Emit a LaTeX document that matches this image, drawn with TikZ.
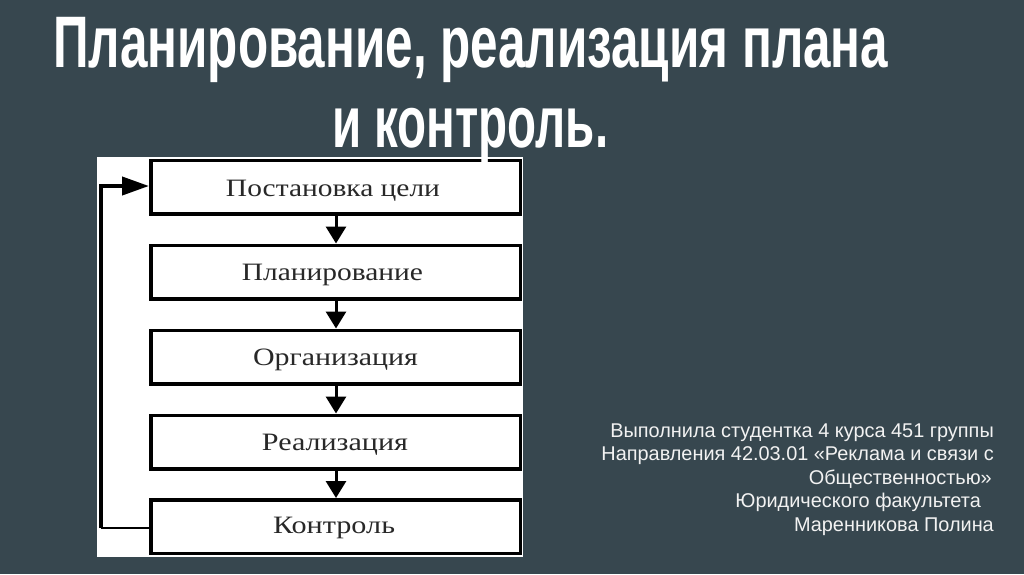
\documentclass[tikz,border=0pt]{standalone}
\usepackage{fontspec}
\usepackage{graphicx}
\setmainfont{Liberation Serif}
\newfontfamily\titlefont{Liberation Sans}
\newfontfamily\infofont{Liberation Sans}
\usetikzlibrary{arrows.meta}
\definecolor{bg}{RGB}{55,71,79}
\definecolor{infotext}{RGB}{242,242,242}
\definecolor{boxtext}{RGB}{40,40,40}
\begin{document}
\begin{tikzpicture}[x=1pt,y=-1pt,
  stepbox/.style={draw=black, line width=3.5pt, fill=white, minimum width=369.5pt, minimum height=53.5pt, inner sep=0pt},
  boxlabel/.style={anchor=base, inner sep=0pt, text=boxtext, font=\fontsize{25}{25}\selectfont},
  flow/.style={line width=3pt, -{Triangle[length=17pt,width=20pt]}},
  titlest/.style={anchor=base west, inner sep=0pt, text=white, font=\titlefont\bfseries\fontsize{73}{73}\selectfont},
  info/.style={anchor=base east, inner sep=0pt, text=infotext, font=\infofont\fontsize{19.9}{19.9}\selectfont}]
\fill[bg] (0,0) rectangle (1024,574);
\useasboundingbox (0,0) rectangle (1024,574);
% picture panel
\fill[white] (97,157) rectangle (523,557);
% feedback loop
\coordinate (fbtop) at (101,186);
\coordinate (fbbot) at (101,528);
% boxes
\node[stepbox] (b1) at (335.5,187) {};
\node[stepbox] (b2) at (335.5,272) {};
\node[stepbox] (b3) at (335.5,357) {};
\node[stepbox] (b4) at (335.5,442) {};
\node[stepbox] (b5) at (335.5,526.5) {};
\draw[line width=1.5pt] (b5.west |- fbbot) -- (fbbot);
\draw[line width=4pt, -{Triangle[length=27pt,width=18pt]}] (fbbot) -- (fbtop) -- (b1.west |- fbtop);
% arrows
\draw[flow] ([xshift=0.5pt]b1.south) -- ([xshift=0.5pt]b2.north);
\draw[flow] ([xshift=0.5pt]b2.south) -- ([xshift=0.5pt]b3.north);
\draw[flow] ([xshift=0.5pt]b3.south) -- ([xshift=0.5pt]b4.north);
\draw[flow] ([xshift=0.5pt]b4.south) -- ([xshift=0.5pt]b5.north);
% labels
\node[boxlabel] (t1) at (333,196) {\resizebox{214pt}{\height}{Постановка цели}};
\node[boxlabel] (t2) at (332.5,280) {\resizebox{181pt}{\height}{Планирование}};
\node[boxlabel] (t3) at (335.5,365) {\resizebox{165pt}{\height}{Организация}};
\node[boxlabel] (t4) at (335,450) {\resizebox{146pt}{\height}{Реализация}};
\node[boxlabel] (t5) at (334,533) {\resizebox{122pt}{\height}{Контроль}};
% title
\node[titlest] (title1) at (53,67) {\resizebox{835pt}{\height}{Планирование, реализация плана}};
\node[titlest] (title2) at (332,147) {\resizebox{276pt}{\height}{и контроль.}};
% info
\node[info] (i1) at (994,437) {Выполнила студентка 4 курса 451 группы};
\node[info] (i2) at (994,460.5) {Направления 42.03.01 «Реклама и связи с};
\node[info] (i3) at (992,484) {Общественностью»};
\node[info] (i4) at (981,507.5) {Юридического факультета};
\node[info] (i5) at (994,531) {Маренникова Полина};
\end{tikzpicture}
\end{document}
